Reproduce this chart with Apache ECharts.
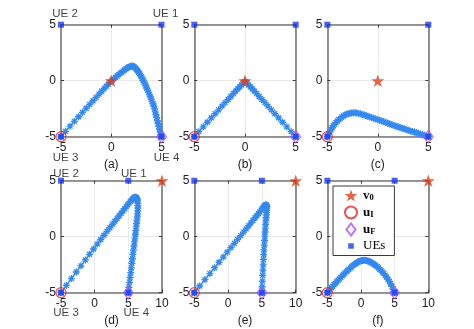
<!DOCTYPE html>
<html>
<head>
<meta charset="utf-8">
<script src="https://cdn.jsdelivr.net/npm/echarts@6/dist/echarts.min.js"></script>
<style>
  html, body { margin: 0; padding: 0; background: #fff; }
  #chart { width: 474px; height: 329px; }
</style>
</head>
<body>
<div id="chart"></div>
<script>
// ---- data -------------------------------------------------------------
const panelLetters = ['(a)', '(b)', '(c)', '(d)', '(e)', '(f)'];
const xTicksTop = [-5, 0, 5];
const xTicksBottom = [-5, 0, 5, 10];
const yTicks = [-5, 0, 5];

// user equipments (same square layout in every panel)
const ueNames = ['UE 1', 'UE 2', 'UE 3', 'UE 4'];
const ueX = [5, -5, -5, 5];
const ueY = [5, 5, -5, -5];

const initialPos = [-5, -5];   // u_I
const finalPos = [5, -5];      // u_F
const v0Pos = [[0, 0], [0, 0], [0, 0], [10, 5], [10, 5], [10, 5]];

// UAV trajectories, one per panel
const trajA = [[-5,-5],[-4.55,-4.52],[-4.1,-4.06],[-3.67,-3.63],[-3.25,-3.22],[-2.86,-2.83],[-2.49,-2.46],
  [-2.14,-2.12],[-1.81,-1.79],[-1.5,-1.49],[-1.21,-1.2],[-0.95,-0.94],[-0.71,-0.71],[-0.49,-0.49],
  [-0.29,-0.3],[-0.1,-0.12],[0.08,0.04],[0.25,0.17],[0.42,0.3],[0.58,0.42],[0.74,0.54],[0.89,0.65],
  [1.04,0.76],[1.18,0.86],[1.32,0.96],[1.46,1.05],[1.59,1.13],[1.72,1.2],[1.85,1.26],[1.97,1.3],
  [2.08,1.31],[2.18,1.29],[2.27,1.24],[2.36,1.16],[2.45,1.07],[2.54,0.98],[2.63,0.88],[2.72,0.76],
  [2.81,0.63],[2.9,0.5],[2.99,0.35],[3.08,0.2],[3.17,0.04],[3.26,-0.12],[3.35,-0.29],[3.44,-0.47],
  [3.53,-0.65],[3.62,-0.85],[3.71,-1.05],[3.8,-1.25],[3.89,-1.45],[3.98,-1.65],[4.07,-1.86],
  [4.16,-2.07],[4.24,-2.28],[4.31,-2.52],[4.38,-2.78],[4.45,-3.04],[4.52,-3.3],[4.59,-3.56],
  [4.66,-3.82],[4.73,-4.08],[4.8,-4.34],[4.87,-4.6],[4.94,-4.84],[5,-5]];

const trajB = [[-5,-5],[-4.55,-4.55],[-4.12,-4.12],[-3.71,-3.71],[-3.32,-3.32],[-2.95,-2.95],[-2.6,-2.6],
  [-2.27,-2.27],[-1.96,-1.96],[-1.67,-1.68],[-1.4,-1.41],[-1.15,-1.16],[-0.92,-0.93],[-0.71,-0.72],
  [-0.52,-0.54],[-0.35,-0.38],[-0.2,-0.24],[-0.08,-0.14],[0,-0.1],[0.08,-0.14],[0.2,-0.24],
  [0.35,-0.38],[0.52,-0.54],[0.71,-0.72],[0.92,-0.93],[1.15,-1.16],[1.4,-1.41],[1.67,-1.68],
  [1.96,-1.96],[2.27,-2.27],[2.6,-2.6],[2.95,-2.95],[3.32,-3.32],[3.71,-3.71],[4.12,-4.12],
  [4.55,-4.55],[5,-5]];

const trajC = [[-5,-5],[-4.88,-4.78],[-4.76,-4.57],[-4.64,-4.38],[-4.52,-4.2],[-4.4,-4.04],[-4.27,-3.88],
  [-4.14,-3.74],[-4.0,-3.6],[-3.86,-3.47],[-3.71,-3.36],[-3.56,-3.25],[-3.41,-3.16],[-3.25,-3.07],
  [-3.09,-3.0],[-2.93,-2.95],[-2.76,-2.91],[-2.59,-2.88],[-2.42,-2.87],[-2.25,-2.87],[-2.08,-2.89],
  [-1.9,-2.92],[-1.72,-2.96],[-1.54,-3.01],[-1.36,-3.06],[-1.17,-3.12],[-0.98,-3.18],[-0.79,-3.24],
  [-0.6,-3.3],[-0.4,-3.36],[-0.2,-3.42],[0,-3.48],[0.2,-3.54],[0.4,-3.6],[0.6,-3.67],[0.8,-3.74],
  [1.0,-3.8],[1.2,-3.87],[1.4,-3.93],[1.6,-4.0],[1.8,-4.06],[2.0,-4.12],[2.2,-4.18],[2.4,-4.24],
  [2.6,-4.3],[2.8,-4.36],[3.0,-4.42],[3.2,-4.48],[3.4,-4.53],[3.6,-4.59],[3.8,-4.65],[4.0,-4.7],
  [4.2,-4.76],[4.4,-4.82],[4.6,-4.88],[4.8,-4.94],[5,-5]];

const trajD = [[-5,-5],[-4.2,-4.35],[-3.45,-3.74],[-2.73,-3.15],[-2.04,-2.6],[-1.38,-2.07],[-0.76,-1.57],
  [-0.17,-1.1],[0.38,-0.66],[0.9,-0.25],[1.38,0.13],[1.83,0.48],[2.25,0.8],[2.64,1.1],[3.0,1.38],
  [3.34,1.64],[3.65,1.88],[3.94,2.1],[4.21,2.31],[4.46,2.5],[4.69,2.68],[4.9,2.84],[5.1,2.99],
  [5.28,3.13],[5.45,3.25],[5.6,3.36],[5.74,3.44],[5.87,3.5],[5.99,3.53],[6.1,3.53],[6.19,3.49],
  [6.26,3.42],[6.31,3.32],[6.36,3.2],[6.4,3.0],[6.42,2.78],[6.42,2.55],[6.4,2.3],[6.37,2.04],
  [6.33,1.77],[6.28,1.48],[6.23,1.18],[6.17,0.87],[6.11,0.55],[6.05,0.22],[5.98,-0.12],[5.91,-0.47],
  [5.84,-0.83],[5.76,-1.2],[5.68,-1.58],[5.6,-1.97],[5.52,-2.37],[5.44,-2.78],[5.36,-3.2],
  [5.27,-3.63],[5.18,-4.07],[5.09,-4.53],[5,-5]];

const trajE = [[-5,-5],[-4.2,-4.4],[-3.43,-3.83],[-2.7,-3.29],[-2.0,-2.77],[-1.34,-2.28],[-0.72,-1.82],
  [-0.13,-1.38],[0.42,-0.97],[0.93,-0.59],[1.41,-0.23],[1.86,0.1],[2.28,0.41],[2.67,0.7],[3.03,0.97],
  [3.37,1.22],[3.68,1.45],[3.97,1.67],[4.23,1.87],[4.47,2.05],[4.69,2.22],[4.89,2.38],[5.07,2.52],
  [5.23,2.64],[5.37,2.74],[5.49,2.81],[5.58,2.85],[5.65,2.84],[5.7,2.78],[5.72,2.68],[5.72,2.55],
  [5.71,2.38],[5.69,2.18],[5.66,1.95],[5.63,1.69],[5.59,1.41],[5.55,1.1],[5.51,0.77],[5.47,0.42],
  [5.43,0.05],[5.39,-0.34],[5.35,-0.75],[5.31,-1.17],[5.27,-1.6],[5.23,-2.05],[5.19,-2.51],
  [5.15,-2.98],[5.11,-3.46],[5.07,-3.96],[5.03,-4.47],[5,-5]];

const trajF = [[-5,-5],[-4.8,-4.85],[-4.6,-4.71],[-4.4,-4.57],[-4.2,-4.43],[-4.0,-4.29],[-3.8,-4.16],
  [-3.6,-4.02],[-3.4,-3.89],[-3.2,-3.76],[-3.0,-3.63],[-2.8,-3.5],[-2.6,-3.38],[-2.4,-3.26],
  [-2.2,-3.14],[-2.0,-3.02],[-1.8,-2.91],[-1.6,-2.8],[-1.4,-2.69],[-1.2,-2.59],[-1.0,-2.49],
  [-0.8,-2.4],[-0.6,-2.32],[-0.4,-2.25],[-0.2,-2.19],[0,-2.15],[0.2,-2.12],[0.4,-2.1],[0.6,-2.1],
  [0.8,-2.13],[1.0,-2.16],[1.2,-2.2],[1.4,-2.26],[1.6,-2.33],[1.8,-2.41],[2.0,-2.49],[2.2,-2.58],
  [2.4,-2.68],[2.6,-2.79],[2.8,-2.91],[3.0,-3.03],[3.2,-3.16],[3.4,-3.29],[3.6,-3.44],[3.8,-3.61],
  [4.0,-3.79],[4.2,-3.99],[4.4,-4.2],[4.6,-4.44],[4.8,-4.7],[5,-5]];

const trajectories = [trajA, trajB, trajC, trajD, trajE, trajF];

// ---- styling & layout ---------------------------------------------------
const TRAJ_BLUE = '#3489ef';
const UE_BLUE = '#1e3cf2';
const STAR_RED = '#e13d18';
const CIRCLE_RED = '#e3232b';
const DIAMOND_PURPLE = '#b54ef0';
const AXIS_GRAY = '#767676';
const TEXT = '#222';
const SANS = '"Liberation Sans", Arial, Helvetica, sans-serif';
const SERIF = '"Liberation Serif", "Times New Roman", serif';

const starPath = 'path://M0,-10L2.35,-3.24L9.51,-3.09L3.8,1.24L5.88,8.09L0,4L-5.88,8.09L-3.8,1.24L-9.51,-3.09L-2.35,-3.24Z';
const asteriskPath = 'path://M0,-1L0,1M-1,0L1,0M-0.7,-0.7L0.7,0.7M-0.7,0.7L0.7,-0.7';
const legendSquare = 'path://M0,0L0.001,0M12,12L12.001,12M3.2,3.2L8.8,3.2L8.8,8.8L3.2,8.8Z';
const legendDiamond = 'path://M0,-6.5L5,0L0,6.5L-5,0Z';

const gridBoxes = [
  { left: 61,    top: 24.7,  width: 100.5, height: 112 },
  { left: 194.3, top: 24.7,  width: 101.4, height: 112 },
  { left: 327.3, top: 24.7,  width: 101,   height: 112 },
  { left: 61,    top: 180.7, width: 101,   height: 112 },
  { left: 194.3, top: 180.7, width: 101.4, height: 112 },
  { left: 327.3, top: 180.7, width: 101,   height: 112 }
];

// UE label offsets (text centre relative to the marker), only panels (a) and (d)
const ueLabelOffsets = {
  0: [[4, -10.5], [4, -10.5], [4.5, 21], [5, 21]],
  3: [[5.5, -7.3], [5, -7.3], [5, 20.6], [8, 20.6]]
};

const xAxes = [], yAxes = [], series = [];

gridBoxes.forEach((g, i) => {
  const bottomRow = i >= 3;
  const xTicks = bottomRow ? xTicksBottom : xTicksTop;
  const xMin = xTicks[0], xMax = xTicks[xTicks.length - 1];
  const yMin = yTicks[0], yMax = yTicks[yTicks.length - 1];
  const line = { show: true, onZero: false, lineStyle: { color: AXIS_GRAY, width: 1.6 } };
  const tick = { show: true, inside: true, length: 3, lineStyle: { color: '#3a3a3a', width: 1 } };

  xAxes.push({
    gridIndex: i, type: 'value', position: 'bottom', min: xMin, max: xMax, interval: 5,
    axisLine: line, axisTick: tick,
    axisLabel: { color: TEXT, fontFamily: SANS, fontSize: 12, margin: 5,
                 formatter: v => (xTicks.indexOf(v) >= 0 ? String(v) : '') },
    splitLine: { show: true, lineStyle: { color: '#e9e9e9', width: 1 } },
    name: panelLetters[i], nameLocation: 'middle', nameGap: 22,
    nameTextStyle: { color: TEXT, fontFamily: SANS, fontSize: 12 }
  });
  xAxes.push({
    gridIndex: i, type: 'value', position: 'top', min: xMin, max: xMax, interval: 5,
    axisLine: line, axisTick: tick, axisLabel: { show: false }, splitLine: { show: false }
  });
  yAxes.push({
    gridIndex: i, type: 'value', position: 'left', min: yMin, max: yMax, interval: 5,
    axisLine: line, axisTick: tick,
    axisLabel: { color: TEXT, fontFamily: SANS, fontSize: 12, margin: 5 },
    splitLine: { show: true, lineStyle: { color: '#e9e9e9', width: 1 } }
  });
  yAxes.push({
    gridIndex: i, type: 'value', position: 'right', min: yMin, max: yMax, interval: 5,
    axisLine: line, axisTick: tick, axisLabel: { show: false }, splitLine: { show: false }
  });

  const xi = 2 * i, yi = 2 * i;

  // trajectory
  series.push({
    type: 'line', xAxisIndex: xi, yAxisIndex: yi, data: trajectories[i],
    symbol: asteriskPath, symbolSize: 7, showAllSymbol: true,
    itemStyle: { color: TRAJ_BLUE, borderColor: TRAJ_BLUE, borderWidth: 1.3 },
    lineStyle: { color: TRAJ_BLUE, width: 1.4 },
    emphasis: { disabled: true }, z: 2
  });
  // initial position
  series.push({
    type: 'scatter', name: 'uI', xAxisIndex: xi, yAxisIndex: yi, data: [initialPos],
    symbol: 'circle', symbolSize: 10, clip: false,
    itemStyle: { color: 'rgba(0,0,0,0)', borderColor: CIRCLE_RED, borderWidth: 1.2 }, z: 3
  });
  // final position
  series.push({
    type: 'scatter', name: 'uF', xAxisIndex: xi, yAxisIndex: yi, data: [finalPos],
    symbol: 'diamond', symbolSize: [10, 12], clip: false,
    itemStyle: { color: 'rgba(0,0,0,0)', borderColor: DIAMOND_PURPLE, borderWidth: 1.2 }, z: 3
  });
  // UEs
  const offs = ueLabelOffsets[i];
  series.push({
    type: 'scatter', name: 'UEs', xAxisIndex: xi, yAxisIndex: yi, clip: false,
    symbol: 'rect', symbolSize: 6,
    itemStyle: { color: UE_BLUE },
    label: { show: !!offs, position: 'inside', formatter: '{b}', color: '#111',
             fontFamily: SANS, fontSize: 11.5 },
    data: ueNames.map((n, k) => ({
      name: n, value: [ueX[k], ueY[k]],
      label: offs ? { offset: offs[k] } : undefined
    })),
    z: 4
  });
  // v0
  series.push({
    type: 'scatter', name: 'v0', xAxisIndex: xi, yAxisIndex: yi, data: [v0Pos[i]],
    symbol: starPath, symbolSize: 13, symbolKeepAspect: true, clip: false,
    itemStyle: { color: STAR_RED }, z: 5
  });
});

const legendText = {
  v0: '{b|v}{s|0}',
  uI: '{b|u}{s|I}',
  uF: '{b|u}{s|F}',
  UEs: '{r|UEs}'
};

const chart = echarts.init(document.getElementById('chart'), null, { renderer: 'canvas' });
chart.setOption({
  animation: false,
  backgroundColor: '#fff',
  grid: gridBoxes.map(g => Object.assign({ containLabel: false }, g)),
  xAxis: xAxes,
  yAxis: yAxes,
  legend: {
    orient: 'vertical', left: 333, top: 186,
    padding: [3, 9, 3, 11], itemWidth: 14, itemHeight: 12, itemGap: 3,
    backgroundColor: '#fff', borderColor: '#3a3a3a', borderWidth: 1,
    selectedMode: false,
    data: [
      { name: 'v0', icon: starPath },
      { name: 'uI', icon: 'circle' },
      { name: 'uF', icon: legendDiamond },
      { name: 'UEs', icon: legendSquare }
    ],
    formatter: n => legendText[n],
    textStyle: {
      color: '#000', fontFamily: SERIF, fontSize: 13,
      rich: {
        b: { fontFamily: SERIF, fontWeight: 'bold', fontSize: 13, lineHeight: 14 },
        s: { fontFamily: SERIF, fontWeight: 'bold', fontSize: 8.5, lineHeight: 6, verticalAlign: 'bottom' },
        r: { fontFamily: SERIF, fontSize: 13, lineHeight: 14 }
      }
    }
  },
  series: series
});
</script>
</body>
</html>
